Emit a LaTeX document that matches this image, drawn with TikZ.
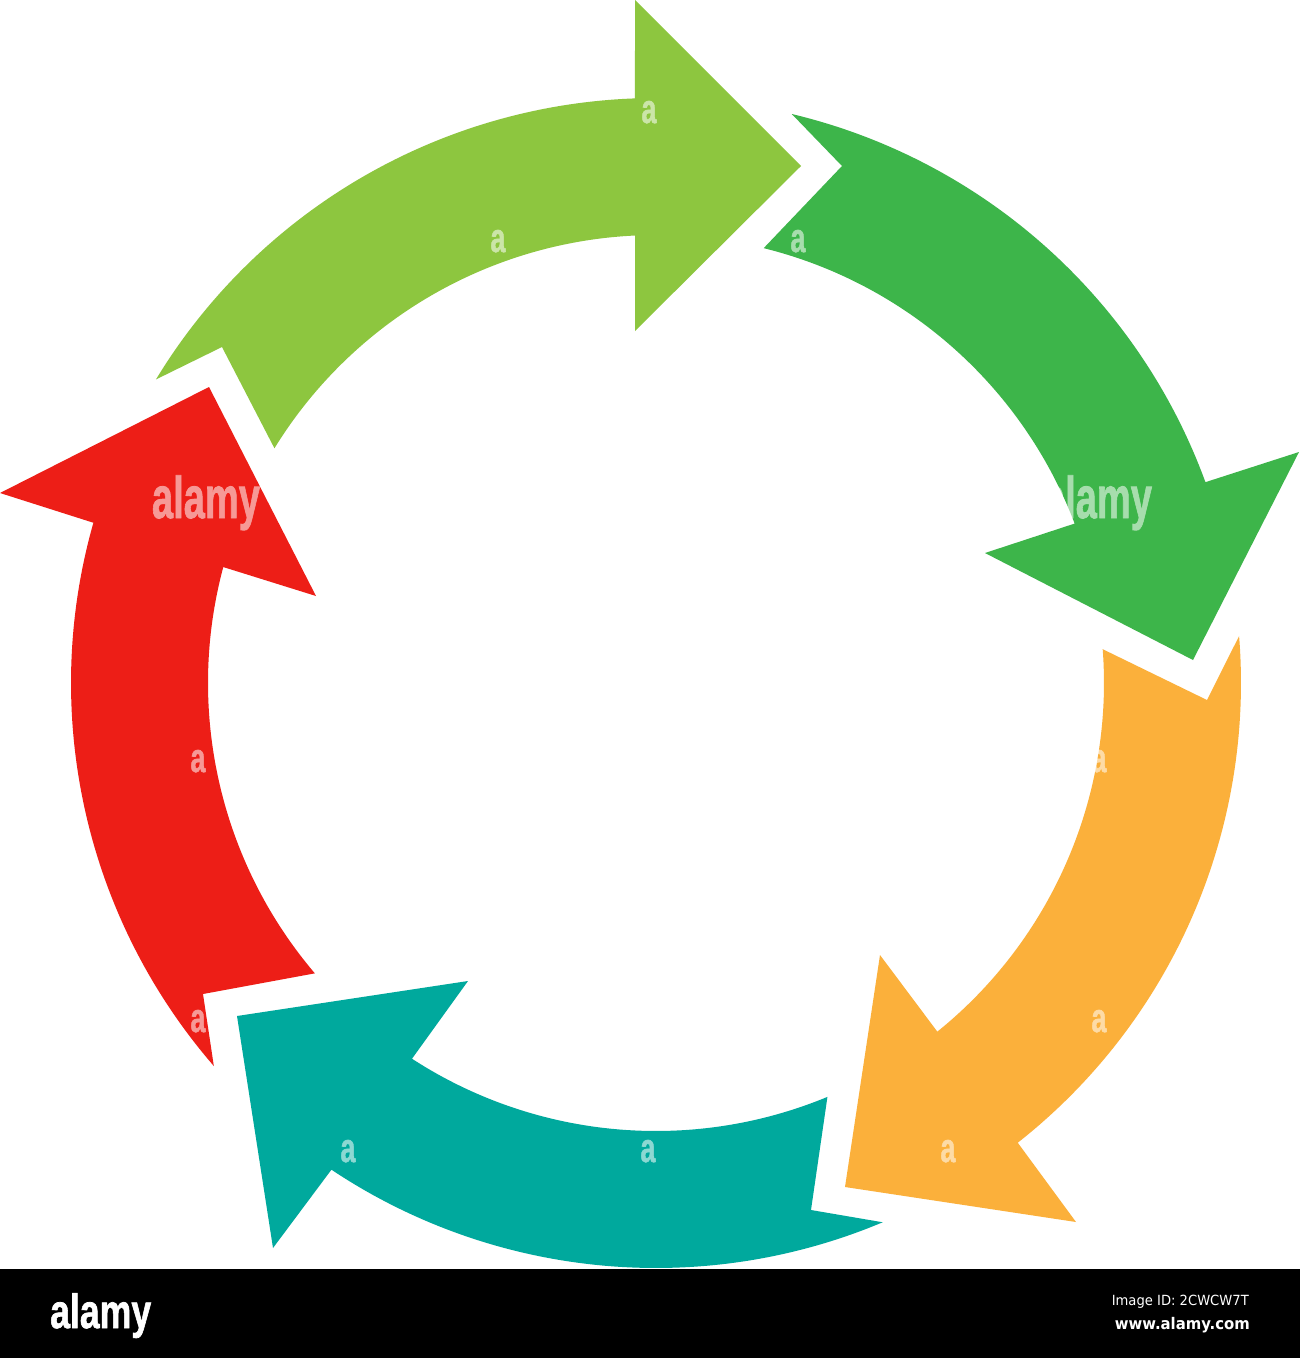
\documentclass[tikz,border=0pt]{standalone}
\usepackage{fontspec}
\usepackage{graphicx}
\setmainfont{Liberation Sans}
\newfontfamily\heavyfont[BoldFeatures={FakeBold=1.5}]{Liberation Sans}
\newfontfamily\dejafont{DejaVu Sans}
\definecolor{cLime}{HTML}{8DC63F}
\definecolor{cGreen}{HTML}{3DB54A}
\definecolor{cOrange}{HTML}{FBB03B}
\definecolor{cTeal}{HTML}{00A99D}
\definecolor{cRed}{HTML}{ED1E17}
% colour, tail outer angle, head outer angle, tail inner angle, head inner angle, notch point, head points
\newcommand{\ringarrow}[7]{%
  \fill[#1] ({656+585*cos(#2)},{683-585*sin(#2)}) -- #6 --
    ({656+448*cos(#4)},{683-448*sin(#4)})
    arc[start angle={-(#4)}, end angle={-(#5)}, radius=448pt] -- #7 --
    ({656+585*cos(#3)},{683-585*sin(#3)})
    arc[start angle={-(#3)}, end angle={-(#2)}, radius=585pt] -- cycle;}
\newcommand{\smalla}[1]{\node[marka] at #1 {\resizebox{15pt}{\height}{a}};}
\begin{document}
\begin{tikzpicture}[x=1pt,y=1pt,yscale=-1,
  marka/.style={text=white,inner sep=0pt,anchor=base,font=\heavyfont\fontsize{41}{41}\selectfont\bfseries},
  markb/.style={text=white,inner sep=0pt,anchor=base,font=\heavyfont\fontsize{59}{59}\selectfont\bfseries},
  banner/.style={text=white,inner sep=0pt,anchor=base east}]
\useasboundingbox (0,0) rectangle (1300,1358);
\fill[white] (0,0) rectangle (1300,1358);
\fill[black] (0,1269) rectangle (1300,1358);
% arrows
\ringarrow{cLime}{148.74}{92.06}{148.4}{92.68}{(222,347)}{(635,331) -- (801,166) -- (635,0)}
\ringarrow{cGreen}{76.58}{20.08}{76.09}{20.85}{(842,166)}{(985,553) -- (1193,660) -- (1299,452)}
\ringarrow{cOrange}{4.6}{-51.8}{4.33}{-51.1}{(1207,700)}{(880,955) -- (845,1187) -- (1076,1222)}
\ringarrow{cTeal}{-67.2}{-123.7}{-67.5}{-123}{(811,1210)}{(468,981) -- (237,1016) -- (273,1248)}
\ringarrow{cRed}{220.9}{164.1}{220.4}{165}{(203,994)}{(316,596) -- (209,387) -- (0,493)}
% watermarks
\begin{scope}[transparency group,opacity=.55]
\node[markb] (wmL) at (206,518) {\resizebox{108pt}{\height}{alamy}};
\node[markb] (wmR) at (1098,518) {\resizebox{108pt}{\height}{alamy}};
\smalla{(649,123)}
\smalla{(498,252)}
\smalla{(798,252)}
\smalla{(198,772)}
\smalla{(1099,772)}
\smalla{(198,1032)}
\smalla{(1099,1032)}
\smalla{(348,1162)}
\smalla{(648,1162)}
\smalla{(948,1162)}
\end{scope}
% banner
\node[text=white,inner sep=0pt,anchor=base west,font=\heavyfont\fontsize{48}{48}\selectfont\bfseries] (logo) at (50,1328) {\resizebox{101pt}{\height}{alamy}};
\node[banner,font=\dejafont\fontsize{14}{14}\selectfont] (imgid) at (1249,1305) {\resizebox{137pt}{\height}{Image ID: 2CWCW7T}};
\node[banner,font=\dejafont\fontsize{16}{16}\selectfont\bfseries] (site) at (1250,1329) {\resizebox{135pt}{\height}{www.alamy.com}};
\end{tikzpicture}
\end{document}
